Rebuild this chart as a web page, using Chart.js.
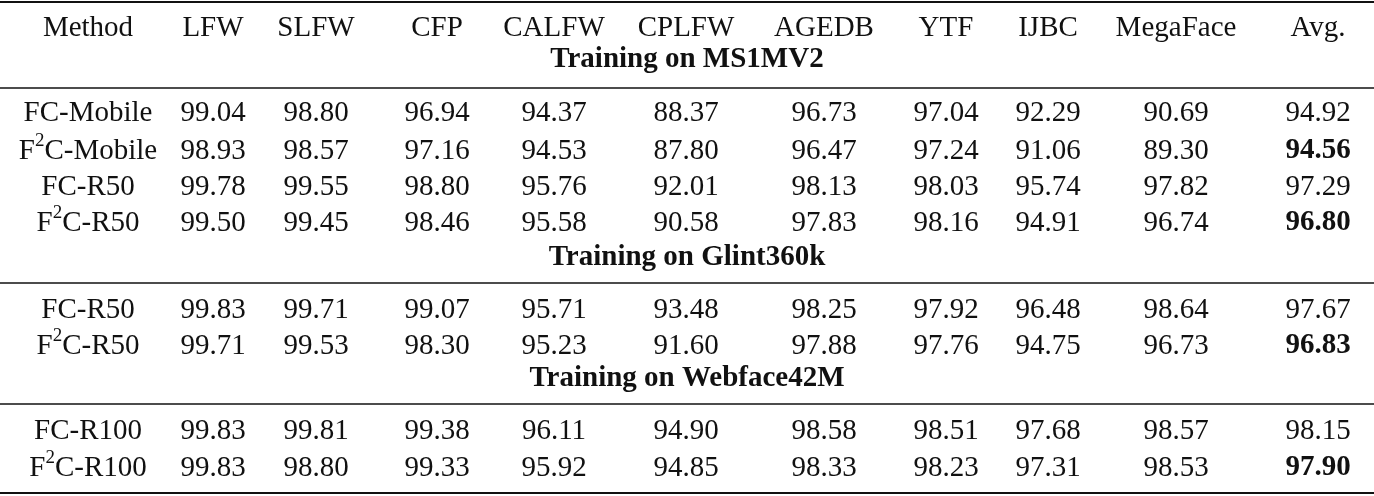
<!DOCTYPE html>
<html>
<head>
<meta charset="utf-8">
<script src="https://cdn.jsdelivr.net/npm/chart.js@4/dist/chart.umd.min.js"></script>
<style>
  html, body { margin: 0; padding: 0; background: #fff; }
  #wrap { width: 1374px; height: 496px; }
</style>
</head>
<body>
<div id="wrap"><canvas id="tbl"></canvas></div>
<script>
// table data
var columns = ["Method", "LFW", "SLFW", "CFP", "CALFW", "CPLFW", "AGEDB", "YTF", "IJBC", "MegaFace", "Avg."];
var sections = ["Training on MS1MV2", "Training on Glint360k", "Training on Webface42M"];
var methods = ["FC-Mobile", "F2C-Mobile", "FC-R50", "F2C-R50", "FC-R50", "F2C-R50", "FC-R100", "F2C-R100"];
var values = [
  [99.04, 98.80, 96.94, 94.37, 88.37, 96.73, 97.04, 92.29, 90.69, 94.92],
  [98.93, 98.57, 97.16, 94.53, 87.80, 96.47, 97.24, 91.06, 89.30, 94.56],
  [99.78, 99.55, 98.80, 95.76, 92.01, 98.13, 98.03, 95.74, 97.82, 97.29],
  [99.50, 99.45, 98.46, 95.58, 90.58, 97.83, 98.16, 94.91, 96.74, 96.80],
  [99.83, 99.71, 99.07, 95.71, 93.48, 98.25, 97.92, 96.48, 98.64, 97.67],
  [99.71, 99.53, 98.30, 95.23, 91.60, 97.88, 97.76, 94.75, 96.73, 96.83],
  [99.83, 99.81, 99.38, 96.11, 94.90, 98.58, 98.51, 97.68, 98.57, 98.15],
  [99.83, 98.80, 99.33, 95.92, 94.85, 98.33, 98.23, 97.31, 98.53, 97.90]
];
var boldAvgRows = [1, 3, 5, 7];

// layout (coordinates on the hidden linear scales)
var colX = [88, 213, 316, 437, 554, 686, 824, 946, 1048, 1176, 1318];
var headerY = 28;
var sectionY = [60, 258, 379];
var rowY = [113, 151, 187, 223, 310, 346, 431, 468];
var rules = [[2, 2.2], [88, 1.3], [283, 1.3], [404, 1.3], [493, 2.2]];

var points = [];
rowY.forEach(function(y) {
  colX.forEach(function(x) { points.push({x: x, y: y}); });
});

var FONT = '"Liberation Serif", "DejaVu Serif", serif';
var SIZE = 29;

function drawMethod(ctx, label, x, y) {
  if (label.indexOf("F2C") !== 0) {
    ctx.textAlign = "center";
    ctx.fillText(label, x, y);
    return;
  }
  var rest = "C" + label.slice(3);
  ctx.font = SIZE + "px " + FONT;
  var wF = ctx.measureText("F").width, wR = ctx.measureText(rest).width;
  ctx.font = "19px " + FONT;
  var w2 = ctx.measureText("2").width;
  var left = x - (wF + w2 + wR) / 2;
  ctx.textAlign = "left";
  ctx.font = SIZE + "px " + FONT;
  ctx.fillText("F", left, y);
  ctx.font = "19px " + FONT;
  ctx.fillText("2", left + wF, y - 10);
  ctx.font = SIZE + "px " + FONT;
  ctx.fillText(rest, left + wF + w2, y);
}

var tablePlugin = {
  id: "tableText",
  afterDatasetsDraw: function(chart) {
    var ctx = chart.ctx, xs = chart.scales.x, ys = chart.scales.y;
    ctx.save();
    ctx.fillStyle = "#111";
    ctx.textBaseline = "middle";

    rules.forEach(function(r) {
      ctx.strokeStyle = "#111";
      ctx.lineWidth = r[1];
      ctx.beginPath();
      ctx.moveTo(xs.getPixelForValue(0), ys.getPixelForValue(r[0]));
      ctx.lineTo(xs.getPixelForValue(1374), ys.getPixelForValue(r[0]));
      ctx.stroke();
    });

    ctx.font = SIZE + "px " + FONT;
    ctx.textAlign = "center";
    columns.forEach(function(c, j) {
      ctx.fillText(c, xs.getPixelForValue(colX[j]), ys.getPixelForValue(headerY));
    });

    ctx.font = "bold " + SIZE + "px " + FONT;
    sections.forEach(function(s, k) {
      ctx.fillText(s, xs.getPixelForValue(687), ys.getPixelForValue(sectionY[k]));
    });

    methods.forEach(function(m, i) {
      var py = ys.getPixelForValue(rowY[i]);
      ctx.font = SIZE + "px " + FONT;
      drawMethod(ctx, m, xs.getPixelForValue(colX[0]), py);
      ctx.textAlign = "center";
      values[i].forEach(function(v, j) {
        var bold = j === values[i].length - 1 && boldAvgRows.indexOf(i) >= 0;
        ctx.font = (bold ? "bold " : "") + SIZE + "px " + FONT;
        ctx.fillText(v.toFixed(2), xs.getPixelForValue(colX[j + 1]), py);
      });
    });
    ctx.restore();
  }
};

new Chart(document.getElementById("tbl"), {
  type: "scatter",
  data: { datasets: [{ data: points, pointRadius: 0, pointHoverRadius: 0 }] },
  options: {
    responsive: true,
    maintainAspectRatio: false,
    animation: false,
    layout: { padding: 0 },
    plugins: { legend: { display: false }, tooltip: { enabled: false } },
    events: [],
    scales: {
      x: { type: "linear", min: 0, max: 1374, display: false },
      y: { type: "linear", min: 0, max: 496, reverse: true, display: false }
    }
  },
  plugins: [tablePlugin]
});
</script>
</body>
</html>
